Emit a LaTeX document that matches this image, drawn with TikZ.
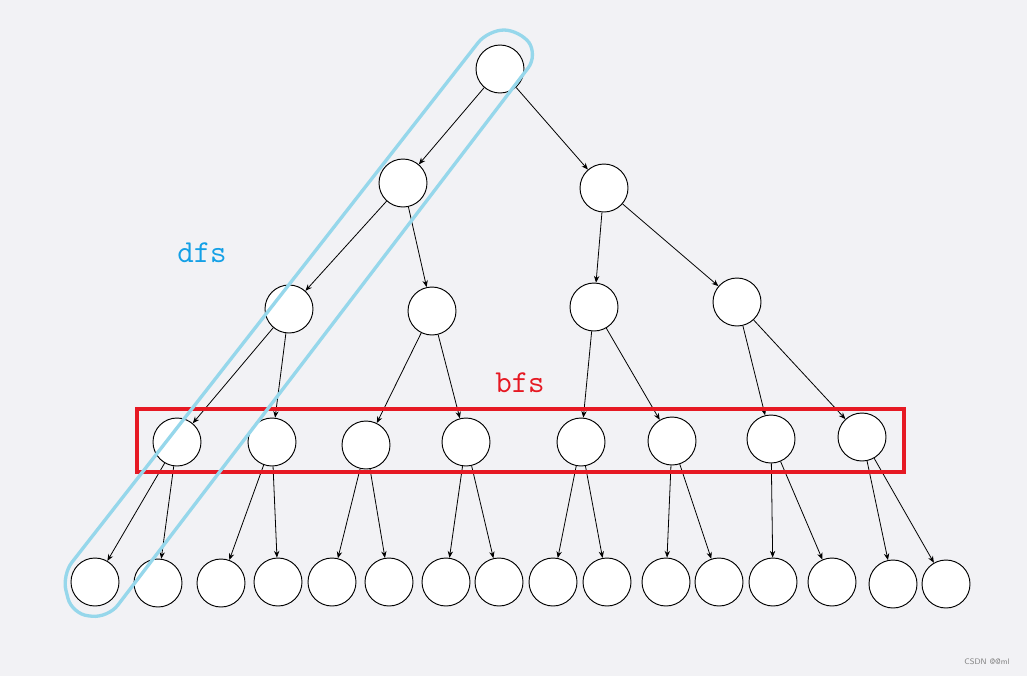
\documentclass[tikz,border=0pt]{standalone}
\usetikzlibrary{arrows.meta}
\definecolor{bg}{RGB}{242,242,245}
\definecolor{dfsc}{RGB}{20,160,230}
\definecolor{loopc}{RGB}{150,215,235}
\definecolor{bfsc}{RGB}{230,25,35}
\begin{document}
\begin{tikzpicture}[x=0.75pt,y=-0.75pt,
  nd/.style={circle,draw=black,fill=white,line width=0.7pt,minimum size=36pt,inner sep=0pt},
  ed/.style={-{Stealth[length=5pt,width=4pt]},line width=0.6pt}]
\fill[bg] (0,0) rectangle (1027,676);
\useasboundingbox (0,0) rectangle (1027,676);
\node[nd] (r) at (500,69) {};
\node[nd] (a1) at (403,183) {};
\node[nd] (a2) at (604,188) {};
\foreach \n/\x/\y in {b1/289/309,b2/432/311,b3/594/307,b4/737/302,
 c1/177/442,c2/272/442,c3/366/445,c4/466/442,c5/581/442,c6/672/441,c7/771/439,c8/862/437,
 d1/95/582,d2/158/583,d3/221/583,d4/278/582,d5/332/582,d6/389/582,d7/446/582,d8/499/582,
 d9/553/582,d10/607/582,d11/666/582,d12/719/582,d13/773/582,d14/832/582,d15/893/584,d16/946/584}
 \node[nd] (\n) at (\x,\y) {};
\draw[ed] (r)--(a1); \draw[ed] (r)--(a2);
\draw[ed] (a1)--(b1); \draw[ed] (a1)--(b2); \draw[ed] (a2)--(b3); \draw[ed] (a2)--(b4);
\draw[ed] (b1)--(c1); \draw[ed] (b1)--(c2); \draw[ed] (b2)--(c3); \draw[ed] (b2)--(c4);
\draw[ed] (b3)--(c5); \draw[ed] (b3)--(c6); \draw[ed] (b4)--(c7); \draw[ed] (b4)--(c8);
\foreach \p/\q/\s in {c1/d1/d2,c2/d3/d4,c3/d5/d6,c4/d7/d8,c5/d9/d10,c6/d11/d12,c7/d13/d14,c8/d15/d16}{
 \draw[ed] (\p)--(\q); \draw[ed] (\p)--(\s);}
\draw[bfsc,line width=3pt] (137,409) rectangle (904,472);
\node[text=bfsc,font=\ttfamily\fontsize{24}{24}\selectfont] (bl) at (520,383) {bfs};
\node[text=dfsc,font=\ttfamily\fontsize{24}{24}\selectfont] (dl) at (202,253) {dfs};
\draw[loopc,line width=2.5pt,rounded corners=12pt] (488,30) -- (520,30) -- (538,55)
 -- (108,618) -- (72,614) -- (62,575) -- cycle;
\node[font=\sffamily\fontsize{6}{6}\selectfont,text=gray] (wm) at (987,662) {CSDN @@ml};
\end{tikzpicture}
\end{document}
